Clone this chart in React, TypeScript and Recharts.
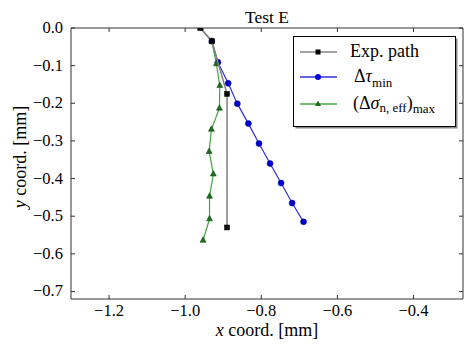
import React from 'react'
import {
  ScatterChart, Scatter, XAxis, YAxis, ReferenceLine, Label,
} from 'recharts'

// x/y in mm
const expX = [-0.96, -0.93, -0.89, -0.89]
const expY = [0.0, -0.035, -0.175, -0.53]

const tauX = [-0.93, -0.914, -0.887, -0.863, -0.834, -0.806, -0.777, -0.748, -0.719, -0.689]
const tauY = [-0.035, -0.091, -0.147, -0.201, -0.254, -0.307, -0.36, -0.412, -0.465, -0.515]

const sigX = [-0.96, -0.93, -0.918, -0.909, -0.91, -0.931, -0.937, -0.926, -0.936, -0.936, -0.953]
const sigY = [0.0, -0.035, -0.095, -0.153, -0.213, -0.269, -0.328, -0.388, -0.447, -0.507, -0.564]

const xTicks = [-1.2, -1.0, -0.8, -0.6, -0.4]
const yTicks = [0.0, -0.1, -0.2, -0.3, -0.4, -0.5, -0.6, -0.7]
const X_MIN = -1.3
const X_MAX = -0.27
const Y_MIN = -0.72
const Y_MAX = 0

const W = 474
const H = 353
const PLOT = { left: 71, right: 463, top: 28, bottom: 299 }
const FONT = 'Liberation Serif, Times New Roman, serif'
const AXIS = '#333'
const C_EXP = '#808080'
const C_TAU = '#3030d8'
const C_SIG = '#45a445'

const zip = (xs: number[], ys: number[]) => xs.map((x, i) => ({ x, y: ys[i] }))

function fmt(v: number) {
  const s = Math.abs(v).toFixed(1)
  return v < 0 ? '\u2212' + s : s
}

function XTick(props: any) {
  const { x, payload } = props
  return (
    <g>
      <line x1={x} x2={x} y1={PLOT.bottom} y2={PLOT.bottom - 4} stroke={AXIS} />
      <line x1={x} x2={x} y1={PLOT.top} y2={PLOT.top + 4} stroke={AXIS} />
      <text x={x} y={PLOT.bottom + 17} textAnchor="middle" fill="#000" fontFamily={FONT} fontSize={16.5}>
        {fmt(payload.value)}
      </text>
    </g>
  )
}

function YTick(props: any) {
  const { y, payload } = props
  return (
    <g>
      <line x1={PLOT.left} x2={PLOT.left + 4} y1={y} y2={y} stroke={AXIS} />
      <line x1={PLOT.right} x2={PLOT.right - 4} y1={y} y2={y} stroke={AXIS} />
      <text x={PLOT.left - 8} y={y + 5} textAnchor="end" fill="#000" fontFamily={FONT} fontSize={16.5}>
        {fmt(payload.value)}
      </text>
    </g>
  )
}

const square = (fill: string) => (p: any) => (
  <rect x={p.cx - 2.5} y={p.cy - 2.5} width={5} height={5} fill={fill} stroke="#000" strokeWidth={0.5} />
)
const circle = (fill: string) => (p: any) => (
  <circle cx={p.cx} cy={p.cy} r={3} fill={fill} stroke="#00008a" strokeWidth={0.5} />
)
const triangle = (fill: string) => (p: any) => (
  <path
    d={`M${p.cx},${p.cy - 3.5} L${p.cx + 3},${p.cy + 2} L${p.cx - 3},${p.cy + 2} Z`}
    fill={fill}
    stroke="#0d3d0d"
    strokeWidth={0.5}
  />
)

// legend drawn as a small svg box in the upper right corner
function LegendBox() {
  const L = 293, T = 36, LW = 163, LH = 91
  const lx1 = 300 - L, lx2 = 337 - L, mx = 318 - L
  const tx = 350 - L
  return (
    <svg
      width={LW + 3}
      height={LH + 3}
      style={{ position: 'absolute', left: L, top: T }}
      fontFamily={FONT}
    >
      <rect x={2.5} y={2.5} width={LW - 1} height={LH - 1} fill="#888" />
      <rect x={0.5} y={0.5} width={LW - 1} height={LH - 1} fill="#fff" stroke="#000" />
      {/* Exp. path */}
      <line x1={lx1} x2={lx2} y1={16} y2={16} stroke={C_EXP} strokeWidth={1.5} />
      <rect x={mx - 2.5} y={13.5} width={5} height={5} fill="#000" />
      <text x={tx} y={21} fontSize={18}>Exp. path</text>
      {/* delta tau min */}
      <line x1={lx1} x2={lx2} y1={41} y2={41} stroke={C_TAU} strokeWidth={1.5} />
      <circle cx={mx} cy={41} r={3} fill="#0000dd" />
      <text x={tx + 4} y={45.5} fontSize={18}>
        Δ<tspan fontStyle="italic">τ</tspan>
        <tspan fontSize={13} dy={5}>min</tspan>
      </text>
      {/* (delta sigma n,eff) max */}
      <line x1={lx1} x2={lx2} y1={68} y2={68} stroke={C_SIG} strokeWidth={1.5} />
      <path d={`M${mx},${64.5} L${mx + 3},${70} L${mx - 3},${70} Z`} fill="#1e6e1e" />
      <text x={tx + 3} y={72.5} fontSize={18}>
        (Δ<tspan fontStyle="italic">σ</tspan>
        <tspan fontSize={13} dy={3}>n, eff</tspan>
        <tspan dy={-3}>)</tspan>
        <tspan fontSize={13} dy={4.5}>max</tspan>
      </text>
    </svg>
  )
}

export default function App() {
  return (
    <div style={{ position: 'absolute', left: 0, top: 0, width: W, height: H, background: '#fff', fontFamily: FONT }}>
      <ScatterChart
        width={W}
        height={H}
        margin={{ top: PLOT.top, right: W - PLOT.right, bottom: 0, left: 0 }}
      >
        <XAxis
          type="number"
          dataKey="x"
          domain={[X_MIN, X_MAX]}
          ticks={xTicks}
          allowDataOverflow
          height={H - PLOT.bottom}
          stroke={AXIS}
          tickLine={false}
          tick={<XTick />}
        >
          <Label
            content={() => (
              <text x={(PLOT.left + PLOT.right) / 2} y={336} textAnchor="middle" fill="#000" fontFamily={FONT} fontSize={18}>
                <tspan fontStyle="italic">x</tspan> coord. [mm]
              </text>
            )}
          />
        </XAxis>
        <YAxis
          type="number"
          dataKey="y"
          domain={[Y_MIN, Y_MAX]}
          ticks={yTicks}
          allowDataOverflow
          width={PLOT.left}
          stroke={AXIS}
          tickLine={false}
          tick={<YTick />}
        >
          <Label
            content={() => (
              <text
                x={26}
                y={157}
                textAnchor="middle"
                fill="#000"
                fontFamily={FONT}
                fontSize={18}
                transform="rotate(-90, 26, 157)"
              >
                <tspan fontStyle="italic">y</tspan> coord. [mm]
              </text>
            )}
          />
        </YAxis>
        <ReferenceLine y={Y_MAX} stroke={AXIS} ifOverflow="visible">
          <Label
            content={() => (
              <text x={(PLOT.left + PLOT.right) / 2} y={22.5} textAnchor="middle" fill="#000" fontFamily={FONT} fontSize={17.5}>
                Test E
              </text>
            )}
          />
        </ReferenceLine>
        <ReferenceLine x={X_MAX} stroke={AXIS} ifOverflow="visible" />
        <Scatter
          data={zip(tauX, tauY)}
          line={{ stroke: C_TAU, strokeWidth: 1.2 }}
          shape={circle('#0000d0')}
          isAnimationActive={false}
        />
        <Scatter
          data={zip(sigX, sigY)}
          line={{ stroke: C_SIG, strokeWidth: 1.2 }}
          shape={triangle('#1e6e1e')}
          isAnimationActive={false}
        />
        <Scatter
          data={zip(expX, expY)}
          line={{ stroke: C_EXP, strokeWidth: 1.5 }}
          shape={square('#000')}
          isAnimationActive={false}
        />
      </ScatterChart>
      <LegendBox />
    </div>
  )
}
